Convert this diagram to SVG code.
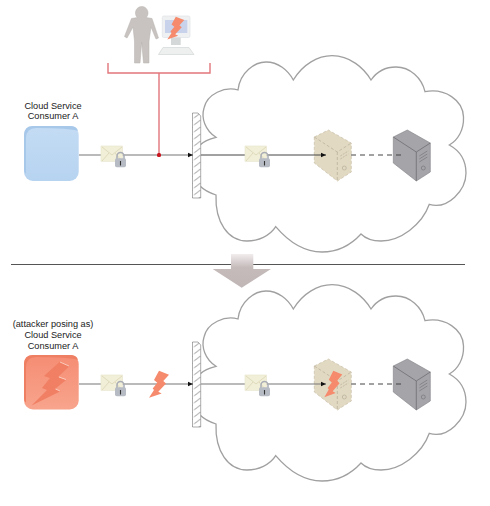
<svg xmlns="http://www.w3.org/2000/svg" width="490" height="506" viewBox="0 0 490 506">
<defs>
<linearGradient id="blue" x1="0" y1="0" x2="0" y2="1"><stop offset="0" stop-color="#c4dcf4"/><stop offset="1" stop-color="#b6d3f0"/></linearGradient>
<linearGradient id="red" x1="0" y1="0" x2="0" y2="1"><stop offset="0" stop-color="#f58d73"/><stop offset="1" stop-color="#f8a48d"/></linearGradient>
<linearGradient id="arrowg" x1="0" y1="0" x2="0" y2="1"><stop offset="0" stop-color="#f2eded"/><stop offset="0.4" stop-color="#c5bbbb"/><stop offset="1" stop-color="#c0b6b6"/></linearGradient>
<pattern id="hatch" x="192.500" y="0" width="8" height="7" patternUnits="userSpaceOnUse"><path d="M1.500 6L8 1" stroke="#555" stroke-width="0.6" fill="none"/></pattern>
<marker id="ah" markerUnits="userSpaceOnUse" markerWidth="6" markerHeight="6" refX="5.500" refY="3" orient="auto"><path d="M0 0.500L5.500 3L0 5.500Z" fill="#111"/></marker>
<path id="bolt" d="M10 0L20 4L14.300 10.300L17 12.700L9.300 21L12.700 22.700L0 27L5 19.300L3.700 17.700L8.300 12L5 9.300Z" fill="#f58a6c"/>
<g id="env"><rect x="0" y="0" width="21.500" height="15.300" fill="#f2efd9" stroke="#e6e3ca" stroke-width="0.6"/><path d="M1 1L11 9L21 1M1 15L8 7M21 15L14 7" fill="none" stroke="#d8d4b4" stroke-width="0.8"/>
<path d="M16 13V10a3.500 3.500 0 0 1 7 0V13" fill="none" stroke="#a8acb4" stroke-width="1.500"/><rect x="14" y="12.300" width="11" height="9" rx="1.800" fill="#b6bbc4"/><path d="M19.500 15V19.500" stroke="#333" stroke-width="1.100"/></g>
<g id="srv"><path d="M0 7L14 0L37 13V42L23 51L0 33Z" fill="#a4a4a9" stroke="#828287" stroke-width="0.6"/><path d="M0 7L23 22L37 13M23 22V51" fill="none" stroke="#6e6e72" stroke-width="0.8"/><path d="M26 26L34 21M26 29L34 24M26 32L34 27" stroke="#77777b" stroke-width="0.7"/><circle cx="30" cy="38" r="2" fill="none" stroke="#77777b" stroke-width="0.7"/></g>
<g id="vsrv"><path d="M0 7L14 0L37 13V42L23 51L0 33Z" fill="#e2d9c2" stroke="#c8bfa8" stroke-width="0.7" stroke-dasharray="3 2"/><path d="M0 7L23 22L37 13M23 22V51" fill="none" stroke="#b5ad98" stroke-width="0.7" stroke-dasharray="3 2"/><path d="M26 26L34 21M26 29L34 24" stroke="#b5ad98" stroke-width="0.7" stroke-dasharray="2 1"/><circle cx="30" cy="38" r="2" fill="none" stroke="#b5ad98" stroke-width="0.7"/></g>
<path id="cloud" d="M200 145C204 141 209 139 216 137.300C205 130 201 118 204 108C207 94 225 86 238 90C240 72 255 62 266 62C278 62 288 70 293.300 80C303 64 318 55.700 332 55.700C350 55.700 364 68 371 80C378 70 388 67 396 67C410 67 422 78 425 91.700C445 88 463 100 463.500 117C464 130 458 140 449.300 145C462 152 466 162 466 173C466 190 448 210 429.300 204.300C422 225 400 241 381 241C372 241 365 238 361 234C350 246 336 252 322 252C303 252 287 240 275.700 226.700C270 236 258 241 247 241C228 241 215 222 216 195C210 193 204 190 200 186" fill="none" stroke="#a0a0a0" stroke-width="1.300"/>
<g id="fw"><path d="M192.500 113H198L200.700 116V198H192.500Z" fill="#fff" stroke="#888" stroke-width="0.7"/><path d="M192.500 113H198L200.700 116V198H192.500Z" fill="url(#hatch)"/></g>
</defs>
<style>
.t{font-family:"Liberation Sans",Arial,sans-serif;font-size:9.200px;fill:#222;text-anchor:middle}
.l{fill:none;stroke:#444;stroke-width:1}
.g{fill:none;stroke:#777;stroke-width:1.200}
.d{fill:none;stroke:#444;stroke-width:1;stroke-dasharray:5 4}
</style>
<g id="cloud-top"><use href="#cloud"/></g>
<g id="cloud-bottom"><use href="#cloud" transform="translate(0 229)"/></g>
<g id="firewall-top"><use href="#fw"/></g>
<g id="firewall-bottom"><use href="#fw" transform="translate(0 229)"/></g>
<g id="vserver-top"><use href="#vsrv" x="314.300" y="130"/></g>
<g id="server-top"><use href="#srv" x="393.300" y="130"/></g>
<g id="vserver-bottom"><use href="#vsrv" x="314.300" y="359"/></g>
<g id="server-bottom"><use href="#srv" x="393.300" y="359"/></g>
<g id="connectors">
<path d="M79 155H193" class="g" marker-end="url(#ah)"/>
<path d="M201 155H326" class="l" marker-end="url(#ah)"/>
<path d="M351 155H404" class="d"/>
<path d="M79 384H193" class="g" marker-end="url(#ah)"/>
<path d="M201 384H326" class="g" marker-end="url(#ah)"/>
<path d="M351 384H404" class="d"/>
<path d="M108 63V73H210V63M159 73V155" fill="none" stroke="#e2767a" stroke-width="1.400"/>
<rect x="157" y="153" width="4" height="4" rx="1.500" fill="#c9161f"/>
<path d="M11 264.500H465" stroke="#555" stroke-width="1" fill="none"/>
</g>
<g id="arrow-down"><path d="M231 254H253.300V269H271L241.700 287.700L212.700 269H231Z" fill="url(#arrowg)"/></g>
<g id="attacker">
<path d="M141.700 6.500C145.500 6.500 148 9.500 148 13C148 15 147.200 16.500 146 17.500L152 18.500L158.500 38L156 39L151 27L149 41V63H143.500L141.700 42L140 63H134.500V41L133 27L127 38L124.500 36.500L131.500 18.500L137.500 17.500C136.200 16.500 135.500 15 135.500 13C135.500 9.500 138 6.500 141.700 6.500Z" fill="#c8c3c0" stroke="#b5b0ad" stroke-width="0.5"/>
<rect x="162.300" y="16" width="27.700" height="21.500" rx="1.500" fill="#eef0f2" stroke="#dfe2e5" stroke-width="0.7"/><rect x="165" y="20" width="22.300" height="13" fill="#c8d2ea"/><rect x="171" y="37.500" width="9.700" height="7.500" fill="#d5d8d8"/><path d="M158.500 54.500L163 47.500H189L194 54.500Z" fill="#eef0f0" stroke="#cfd2d2" stroke-width="0.6"/>
<use href="#bolt" transform="translate(167.300 16.700) scale(0.85 0.84)"/>
</g>
<g id="consumer-a">
<text class="t" x="53" y="108.700">Cloud Service</text><text class="t" x="53" y="119.200">Consumer A</text>
<rect x="24" y="126" width="54.700" height="55" rx="9" fill="url(#blue)"/>
<path d="M24 135Q24 126 33 126H70Q77 126 78 131Q70 128 36 128Q26.500 128 26 138V174Q24 172 24 170Z" fill="#a8c8ea"/>
</g>
<g id="attacker-consumer">
<text class="t" x="53" y="327.300">(attacker posing as)</text><text class="t" x="53" y="338">Cloud Service</text><text class="t" x="53" y="348.700">Consumer A</text>
<rect x="24" y="355" width="54.700" height="54.500" rx="9" fill="url(#red)"/>
<path d="M24 364Q24 355 33 355H70Q77 355 78 360Q70 357 36 357Q26.500 357 26 367V403Q24 401 24 399Z" fill="#ef7f63"/>
<path d="M60 361.500L69.500 366L58 377L66 380L55 389L61 391L31.500 405.500L47 390L42 388L50 378L44 376Z" fill="#f07f63"/>
<path d="M60 362L69 366M59 377L66 379.500M55.500 389L60 391" stroke="#fbd3c6" stroke-width="0.9" fill="none"/>
</g>
<g id="msg1"><use href="#env" x="101" y="146"/></g>
<g id="msg2"><use href="#env" x="245" y="146"/></g>
<g id="msg3"><use href="#env" x="101" y="375"/></g>
<g id="msg4"><use href="#env" x="245" y="375"/></g>
<g id="bolt-mid"><use href="#bolt" x="149" y="370.700"/></g>
<g id="bolt-server"><use href="#bolt" transform="translate(324.300 370.700) scale(0.9 0.98)"/></g>
</svg>
